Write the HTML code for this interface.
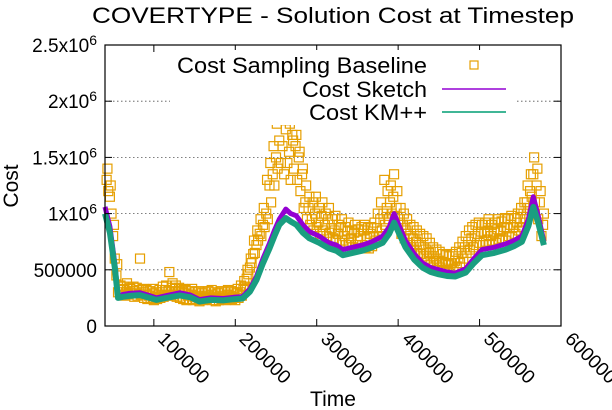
<!DOCTYPE html>
<html><head><meta charset="utf-8"><style>
body{margin:0;background:#fff}
svg{display:block;font-family:"Liberation Sans",sans-serif}
</style></head><body>
<svg id="chart" width="612" height="410" viewBox="0 0 612 410">
<text x="333" y="23" font-size="22" text-anchor="middle" textLength="482" lengthAdjust="spacingAndGlyphs">COVERTYPE - Solution Cost at Timestep</text>
<g id="grid"></g><g id="marks"></g><g id="axes"></g>
<text transform="translate(18,186) rotate(-90)" font-size="21" text-anchor="middle">Cost</text>
<text x="333" y="406" font-size="21" text-anchor="middle">Time</text>
<g id="legend">
<rect x="170" y="50" width="345" height="75" fill="#fff"/>
<text x="427" y="73" font-size="22" text-anchor="end" textLength="250" lengthAdjust="spacingAndGlyphs">Cost Sampling Baseline</text>
<rect x="470" y="61" width="8" height="8" fill="none" stroke="#e69f00" stroke-width="1.2"/>
<text x="427" y="97" font-size="22" text-anchor="end" textLength="125" lengthAdjust="spacingAndGlyphs">Cost Sketch</text>
<line x1="442" y1="89" x2="506" y2="89" stroke="#9400d3" stroke-width="1.5"/>
<text x="427" y="120" font-size="22" text-anchor="end" textLength="118" lengthAdjust="spacingAndGlyphs">Cost KM++</text>
<line x1="442" y1="112" x2="506" y2="112" stroke="#009e73" stroke-width="1.5"/>
</g>
</svg>
<script>
const yTicks=[0,500000,1000000,1500000,2000000,2500000];
const yTickLabels=["0","500000","1x10^6","1.5x10^6","2x10^6","2.5x10^6"];
const xTicks=[100000,200000,300000,400000,500000,600000];
const xTickLabels=["100000","200000","300000","400000","500000","600000"];
const sketchT=[40,46,52,56,62,70,83,95,103,115,132,145,156,170,185,198,209,218,226,234,242,248,254,262,268,275,283,291,303,315,324,332,344,356,368,381,389,395,402,409,420,430,440,450,460,470,483,493,503,518,532,542,552,560,566,572,579];
const sketchV=[1060,884,558,270,280,290,295,270,250,270,295,275,235,250,245,255,262,330,440,600,736,850,950,1040,1000,980,900,840,800,740,720,680,700,720,750,800,880,1000,880,760,640,560,520,500,480,470,510,600,680,700,730,760,800,950,1150,980,750];
const kmV=[1000,830,520,250,260,268,275,250,232,250,272,255,218,232,228,238,245,305,410,560,690,800,900,960,930,900,830,780,740,690,670,630,650,670,700,740,820,920,810,700,590,520,480,460,445,440,475,560,630,650,680,710,750,890,1060,920,720];
const baseA=[1300,1150,800,450,330,320,300,340,310,290,320,300,280,270,290,260,280,300,320,310,340,330,310,300,290,270,280,260,270,250,260,270,280,260,250,270,260,280,270,260,290,300,330,420,520,640,720,820,900,1000,1250,1350,1500,1650,1600,1750,1550,1700,1600,1500,1350,1100,1050,950,1000,920,980,900,950,870,850,820,880,800,850,780,830,760,800,850,780,820,800,870,950,1000,1050,1100,1150,1050,950,900,850,800,780,750,720,700,680,650,620,600,580,570,560,550,560,580,600,650,700,750,780,800,820,840,830,850,800,830,860,840,880,870,900,880,920,950,1000,1100,1200,1350,1250,1100,900];
const baseB=[1200,1000,600,300,280,270,280,290,260,270,280,250,240,250,230,240,250,260,270,280,270,260,250,240,230,240,230,240,220,230,240,250,230,220,230,240,230,250,240,230,250,270,350,460,560,650,760,800,880,950,1100,1250,1400,1450,1350,1450,1300,1400,1300,1200,1050,950,900,850,880,820,850,800,830,780,760,740,760,720,740,700,720,690,720,700,690,710,760,800,850,900,950,1000,980,900,820,780,740,700,680,650,640,620,600,580,560,540,520,500,490,500,510,530,560,600,650,680,700,720,740,720,750,730,760,740,770,780,760,800,790,820,850,880,950,1050,1150,1100,950,800];
const baseC=[1400,1250,900,550,360,350,380,330,350,340,600,330,320,310,330,300,320,350,360,480,380,360,340,330,320,310,330,300,310,290,300,310,320,300,290,310,300,320,310,300,330,360,400,500,600,760,850,950,1050,1300,1450,1600,1800,2000,1850,1950,1800,1650,1700,1550,1400,1250,1150,1100,1150,1050,1100,1000,1050,950,980,900,950,880,920,850,900,860,880,900,870,880,920,1000,1100,1300,1200,1250,1350,1200,1050,1000,950,900,880,850,820,800,780,740,700,680,660,640,630,620,640,660,700,750,800,850,880,900,920,900,920,950,900,920,950,930,960,950,980,960,1000,1050,1100,1250,1350,1500,1400,1200,1000];
const X0=105,X1=561,Y0=326,Y1=45,xmin=40000,xmax=600000,ymax=2500000;
const sx=t=>X0+(t-xmin)/(xmax-xmin)*(X1-X0);
const sy=v=>Y0-v/ymax*(Y0-Y1);
const NS="http://www.w3.org/2000/svg";
function mk(tag,attrs,parent){const e=document.createElementNS(NS,tag);for(const k in attrs)e.setAttribute(k,attrs[k]);parent.appendChild(e);return e;}
const grid=document.getElementById('grid'),marks=document.getElementById('marks'),axes=document.getElementById('axes');
yTicks.forEach((v,i)=>{
 if(i>0&&i<yTicks.length-1){const g=mk('line',{x1:X0,x2:X1,y1:sy(v),y2:sy(v),stroke:'#555','stroke-width':0.8,'stroke-dasharray':'1.5,2.5'},grid);
 
 }
 const t=mk('line',{x1:X0,x2:X0+7,y1:sy(v),y2:sy(v),stroke:'#000'},axes);
 
 
 mk('line',{x1:X1-7,x2:X1,y1:sy(v),y2:sy(v),stroke:'#000'},axes);
 const lab=yTickLabels[i];
 const tx=mk('text',{x:97,y:sy(v)+7,'font-size':19,'text-anchor':'end'},axes);
 
 
 if(lab.includes('^')){const p=lab.split('^');tx.appendChild(document.createTextNode(p[0]));const s=mk('tspan',{dy:-7,'font-size':14},tx);s.textContent=p[1];}
 else tx.textContent=lab;
});
xTicks.forEach((v,i)=>{
 const x=sx(v);
 const t=mk('line',{x1:x,x2:x,y1:Y0,y2:Y0-7,stroke:'#000'},axes);
 
 
 mk('line',{x1:x,x2:x,y1:Y1,y2:Y1+7,stroke:'#000'},axes);
 const tx=mk('text',{transform:`translate(${x+3},${Y0+14}) rotate(45)`,'font-size':19},axes);
 
 
 tx.textContent=xTickLabels[i];
});
const fr=mk('rect',{x:X0,y:Y1,width:X1-X0,height:Y0-Y1,fill:'none',stroke:'#000','stroke-width':1.2},axes);


function drawBase(arr,start,name){arr.forEach((v,i)=>{const t=(start+4*i)*1000;
 const r=mk('rect',{x:sx(t)-4.5,y:sy(v*1000)-4.5,width:9,height:9,fill:'none',stroke:'#e69f00','stroke-width':1.2},marks);
 
 });}
drawBase(baseA,42,'baseline-point');
drawBase(baseB,44,'baseline-point');
drawBase(baseC,43,'baseline-point');
function line(vals,color,name,w){const d=vals.map((v,i)=>(i?'L':'M')+sx(sketchT[i]*1000).toFixed(1)+','+sy(v*1000).toFixed(1)).join('');
 const p=mk('path',{d:d,fill:'none',stroke:color,'stroke-width':w,'stroke-linejoin':'round'},marks);
 
 }
line(sketchV,'#9400d3','sketch-line',5);
line(kmV,'#1a9e80','km-line',6);
const lg=document.getElementById('legend');lg.parentNode.appendChild(lg);
</script>
</body></html>
